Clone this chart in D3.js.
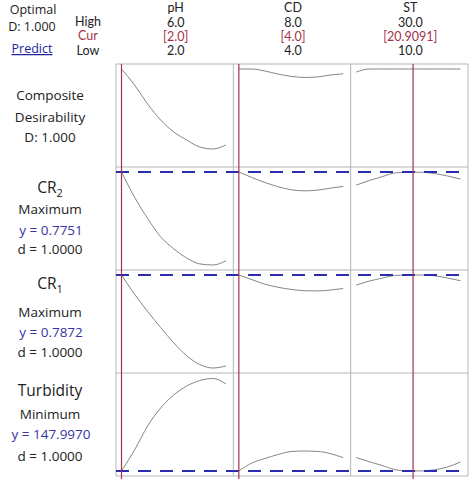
<!DOCTYPE html>
<html>
<head>
<meta charset="utf-8">
<script src="https://cdn.jsdelivr.net/npm/d3@7"></script>
<style>
  body { margin: 0; background: #fff; }
  text { font-family: "Open Sans", sans-serif; }
  .hdr text { font-family: Lato, "Open Sans", sans-serif; }
</style>
</head>
<body>
<svg id="chart" width="474" height="482"></svg>
<script>
// factors (columns)
var factorNames = ['pH', 'CD', 'ST'];
var factorLow = [2.0, 4.0, 10.0];
var factorHigh = [6.0, 8.0, 30.0];
var factorCur = [2.0, 4.0, 20.9091];
var highLabels = ['6.0', '8.0', '30.0'];
var curLabels = ['[2.0]', '[4.0]', '[20.9091]'];
var lowLabels = ['2.0', '4.0', '10.0'];

// settings where each curve was read
var pHGrid = [2.0, 2.5, 3.0, 3.5, 4.0, 4.5, 5.0, 5.5, 6.0];
var cdGrid = [4.0, 4.5, 5.0, 5.5, 6.0, 6.5, 7.0, 7.5, 8.0];
var stGrid = [10, 12.5, 15, 17.5, 20, 22.5, 25, 27.5, 30];

// composite desirability
var compositeByPH = [1.0, 0.828, 0.624, 0.452, 0.323, 0.237, 0.161, 0.140, 0.183];
var compositeByCD = [1.0, 1.0, 0.978, 0.946, 0.921, 0.909, 0.914, 0.935, 0.949];
var compositeByST = [0.967, 1.0, 1.0, 1.0, 1.0, 1.0, 1.0, 1.0, 1.0];

// CR2
var cr2ByPH = [0.7751, 0.660, 0.563, 0.479, 0.424, 0.382, 0.355, 0.350, 0.369];
var cr2ByCD = [0.7751, 0.750, 0.727, 0.708, 0.694, 0.689, 0.692, 0.701, 0.709];
var cr2ByST = [0.715, 0.736, 0.754, 0.771, 0.774, 0.774, 0.768, 0.757, 0.743];

// CR1
var cr1ByPH = [0.7872, 0.699, 0.620, 0.546, 0.476, 0.416, 0.376, 0.360, 0.369];
var cr1ByCD = [0.7872, 0.766, 0.745, 0.731, 0.721, 0.715, 0.714, 0.718, 0.725];
var cr1ByST = [0.741, 0.759, 0.773, 0.785, 0.787, 0.787, 0.784, 0.773, 0.761];

// Turbidity
var turbByPH = [147.997, 251.2, 369.1, 457.5, 521.4, 565.6, 592.6, 602.5, 576.9];
var turbByCD = [147.997, 187.3, 209.4, 229.0, 243.8, 246.3, 244.7, 233.9, 213.3];
var turbByST = [214.3, 193.7, 175.0, 154.4, 148.0, 148.3, 153.9, 167.7, 192.1];

// responses (rows)
var goals = [null, 'Maximum', 'Maximum', 'Minimum'];
var predicted = ['1.000', '0.7751', '0.7872', '147.9970'];
var predictedValue = [1.0, 0.7751, 0.7872, 147.997];
var yDomains = [[0, 1], [0.35, 0.7751], [0.36, 0.7872], [147.997, 605]];

var grids = [pHGrid, cdGrid, stGrid];
var rowsData = [
  [compositeByPH, compositeByCD, compositeByST],
  [cr2ByPH, cr2ByCD, cr2ByST],
  [cr1ByPH, cr1ByCD, cr1ByST],
  [turbByPH, turbByCD, turbByST]
];

var svg = d3.select('#chart');

var plotLeft = 116, plotRight = 468, plotTop = 64, rowHeight = 103;
var colWidth = (plotRight - plotLeft) / 3;
var plotBottom = plotTop + rowHeight * 4;

var gray = '#b5b5b5', red = '#a3324a', blue = '#2c2cb0', ink = '#222';

var xScales = factorNames.map(function(f, i) {
  var left = plotLeft + i * colWidth;
  return d3.scaleLinear()
    .domain([factorLow[i], factorHigh[i]])
    .range([left + 5.5, left + colWidth - 7.5]);
});

var yScales = yDomains.map(function(dom, r) {
  var top = plotTop + r * rowHeight;
  return d3.scaleLinear().domain(dom).range([top + rowHeight - 5, top + 5]);
});

/* header text */
var left = svg.append('g').attr('font-size', 12.5).attr('fill', ink).attr('text-anchor', 'middle');
left.append('text').attr('x', 33).attr('y', 14).text('Optimal');
left.append('text').attr('x', 32).attr('y', 31).text('D: 1.000');
left.append('text').attr('x', 32).attr('y', 53)
  .attr('fill', '#2323a0').attr('text-decoration', 'underline').text('Predict');

var header = svg.append('g').attr('class', 'hdr').attr('font-size', 12.5)
  .attr('fill', ink).attr('text-anchor', 'middle');
header.append('text').attr('x', 88).attr('y', 25.5).text('High');
header.append('text').attr('x', 88).attr('y', 40).attr('fill', red).text('Cur');
header.append('text').attr('x', 88).attr('y', 55).text('Low');

factorNames.forEach(function(f, i) {
  var cx = plotLeft + (i + 0.5) * colWidth + 1;
  header.append('text').attr('x', cx).attr('y', 12).text(f);
  header.append('text').attr('x', cx).attr('y', 26.5).text(highLabels[i]);
  header.append('text').attr('x', cx).attr('y', 40.5).attr('fill', red).text(curLabels[i]);
  header.append('text').attr('x', cx).attr('y', 55).text(lowLabels[i]);
});

/* row labels */
var labels = svg.append('g').attr('text-anchor', 'middle').attr('fill', ink);
var lx = 50;
labels.append('text').attr('x', lx).attr('y', 100).attr('font-size', 13.5).text('Composite');
labels.append('text').attr('x', lx).attr('y', 121.5).attr('font-size', 13.5).text('Desirability');
labels.append('text').attr('x', lx).attr('y', 141.5).attr('font-size', 13.5).text('D: ' + predicted[0]);

var rowText = [
  { name: 'CR', sub: '2', yName: 193.3, yGoal: 214, yPred: 235, yD: 254 },
  { name: 'CR', sub: '1', yName: 289.3, yGoal: 316.7, yPred: 336.7, yD: 356.7 },
  { name: 'Turbidity', sub: null, yName: 396, yGoal: 419.3, yPred: 439.3, yD: 460.7 }
];
rowText.forEach(function(t, k) {
  var r = k + 1;
  var nm = labels.append('text').attr('x', lx).attr('y', t.yName).attr('font-size', 15.5).text(t.name);
  if (t.sub) {
    nm.append('tspan').attr('font-size', 11).attr('dy', 4).text(t.sub);
  }
  labels.append('text').attr('x', lx).attr('y', t.yGoal).attr('font-size', 13.5).text(goals[r]);
  labels.append('text').attr('x', lx + 1).attr('y', t.yPred).attr('font-size', 13.5)
    .attr('fill', '#3535a5').text('y = ' + predicted[r]);
  labels.append('text').attr('x', lx).attr('y', t.yD).attr('font-size', 13.5).text('d = 1.0000');
});

/* panel grid */
var grid = svg.append('g').attr('stroke', gray).attr('stroke-width', 1).attr('fill', 'none');
d3.range(5).forEach(function(r) {
  var y = plotTop + r * rowHeight;
  grid.append('line').attr('x1', plotLeft).attr('x2', plotRight).attr('y1', y).attr('y2', y);
});
d3.range(4).forEach(function(c) {
  var x = plotLeft + c * colWidth;
  grid.append('line').attr('x1', x).attr('x2', x).attr('y1', plotTop).attr('y2', plotBottom);
});

/* response curves */
var curves = svg.append('g').attr('fill', 'none').attr('stroke', '#858585').attr('stroke-width', 1);
rowsData.forEach(function(row, r) {
  row.forEach(function(vals, c) {
    var line = d3.line()
      .x(function(d, i) { return xScales[c](grids[c][i]); })
      .y(function(d) { return yScales[r](d); })
      .curve(d3.curveMonotoneX);
    curves.append('path').attr('d', line(vals));
  });
});

/* current response (dashed) */
var dashes = svg.append('g').attr('stroke', blue).attr('stroke-width', 2)
  .attr('stroke-dasharray', '13,9');
[1, 2, 3].forEach(function(r) {
  var y = yScales[r](predictedValue[r]);
  dashes.append('line').attr('x1', plotLeft).attr('x2', plotRight).attr('y1', y).attr('y2', y);
});

/* current factor settings */
var cur = svg.append('g').attr('stroke', red).attr('stroke-width', 1.2);
factorCur.forEach(function(v, i) {
  var x = xScales[i](v);
  cur.append('line').attr('x1', x).attr('x2', x).attr('y1', plotTop).attr('y2', plotBottom + 3);
});
</script>
</body>
</html>
